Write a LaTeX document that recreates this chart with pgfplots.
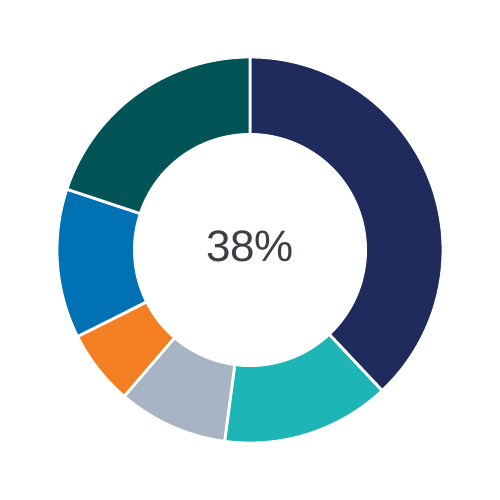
\documentclass[border=0pt]{standalone}
\usepackage{pgfplots}
\pgfplotsset{compat=1.18}
\usepackage{fontspec}
\setmainfont{Liberation Sans}

\definecolor{cNavy}{HTML}{1E2B5C}
\definecolor{cTeal}{HTML}{1DB5B5}
\definecolor{cGray}{HTML}{A8B3C3}
\definecolor{cOrange}{HTML}{F37F22}
\definecolor{cBlue}{HTML}{0072B3}
\definecolor{cGreen}{HTML}{035456}
\definecolor{cText}{HTML}{3C3F44}

\begin{document}
\begin{tikzpicture}
\begin{axis}[
    scale only axis,
    width=10cm, height=10cm,
    xmin=-250, xmax=250,
    ymin=-250, ymax=250,
    hide axis,
    clip=false,
]
% invisible frame so the page keeps the reference's size
\addplot[draw=none] coordinates {(-250,-250) (250,250)};

% shares in percent: 38, 14.1, 9.2, 6.3, 12.5, 19.9 (clockwise from 12 o'clock)
\addplot[fill=cNavy, draw=white, line width=1.6pt, samples=90,
    domain={90-3.6*38}:{90}]
    ({193*cos(x)},{193*sin(x)}) -- (0,0) -- cycle;
\addplot[fill=cTeal, draw=white, line width=1.6pt, samples=60,
    domain={90-3.6*(38+14.1)}:{90-3.6*38}]
    ({193*cos(x)},{193*sin(x)}) -- (0,0) -- cycle;
\addplot[fill=cGray, draw=white, line width=1.6pt, samples=60,
    domain={90-3.6*(38+14.1+9.2)}:{90-3.6*(38+14.1)}]
    ({193*cos(x)},{193*sin(x)}) -- (0,0) -- cycle;
\addplot[fill=cOrange, draw=white, line width=1.6pt, samples=60,
    domain={90-3.6*(38+14.1+9.2+6.3)}:{90-3.6*(38+14.1+9.2)}]
    ({193*cos(x)},{193*sin(x)}) -- (0,0) -- cycle;
\addplot[fill=cBlue, draw=white, line width=1.6pt, samples=60,
    domain={90-3.6*(38+14.1+9.2+6.3+12.5)}:{90-3.6*(38+14.1+9.2+6.3)}]
    ({193*cos(x)},{193*sin(x)}) -- (0,0) -- cycle;
\addplot[fill=cGreen, draw=white, line width=1.6pt, samples=60,
    domain={90-3.6*100}:{90-3.6*(38+14.1+9.2+6.3+12.5)}]
    ({193*cos(x)},{193*sin(x)}) -- (0,0) -- cycle;

% hole
\addplot[fill=white, draw=none, samples=120, domain=0:360]
    ({117*cos(x)},{117*sin(x)}) -- cycle;

\node[text=cText, font=\fontsize{25}{30}\selectfont, anchor=center]
    at (axis cs:0,4) {38\%};
\end{axis}
\end{tikzpicture}
\end{document}
